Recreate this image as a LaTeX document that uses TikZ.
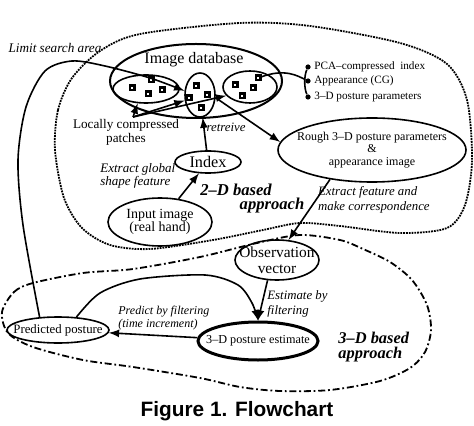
\documentclass[tikz,border=0pt]{standalone}
\usepackage{fontspec}
\setmainfont{Liberation Serif}
\newfontfamily\capfont{Liberation Sans}
\usepackage{tikz}
\usetikzlibrary{shapes,arrows}

\begin{document}
\begin{tikzpicture}[x=0.5pt, y=-0.5pt,
    stage/.style={ellipse, draw, thick, inner sep=0pt},
    note/.style={font=\fontsize{6.4}{7.5}\selectfont\itshape, inner sep=0pt},
    big/.style={font=\fontsize{8.3}{8}\selectfont\bfseries\itshape, inner sep=0pt},
    plain/.style={inner sep=0pt, align=center}]

  \useasboundingbox (0,0) rectangle (474,426);

  % the two approaches
  \draw [line width=0.9pt, dash pattern=on 0.9pt off 0.5pt] plot [smooth cycle] coordinates {(55,150) (58,110) (72,78) (100,51) (140,34) (240,23) (310,26) (400,43) (447,64) (467,100) (472,160) (465,205) (447,228) (400,233) (340,226) (300,223) (263,230) (213,240) (150,249) (110,245) (82,228) (64,198)};
  \draw [line width=0.9pt, dash pattern=on 3.5pt off 1.4pt on 0.9pt off 1.4pt] plot [smooth cycle] coordinates {(2,312) (14,292) (33,283) (83,273) (133,269) (200,257) (257,243) (300,235) (340,240) (363,249) (390,262) (412,280) (427,305) (431,330) (425,352) (410,368) (380,381) (330,390) (280,391) (240,387) (200,378) (133,367) (83,360) (33,347) (8,333)};

  % image database
  \node [stage, line width=1pt, minimum width=86pt, minimum height=37pt] (imgdb) at (196,81) {};
  \node [plain, font=\fontsize{8}{9}\selectfont] (imgtxt) at (194,60) {Image database};
  \node [stage, minimum width=33pt, minimum height=14pt] (leftcl) at (146,89) {};
  \node [stage, minimum width=15pt, minimum height=22pt] (midcl) at (200,95) {};
  \node [stage, minimum width=27pt, minimum height=16pt] (rightcl) at (250,87) {};
  \foreach \x/\y in {132/88, 151/80, 148/94, 162/90, 196/86, 207/95, 189/98, 201/108, 235/85, 258/78, 253/88, 242/96} {
    \fill (\x-3.5,\y-3.5) rectangle (\x+3.5,\y+3.5);
    \fill [white] (\x-1.3,\y-0.8) rectangle (\x+1.3,\y+0.8);
  }
  \coordinate (pcapatch) at (261,77);

  % what one patch holds
  \node [circle, fill, inner sep=0pt, minimum size=2.6pt] (b1) at (308,67) {};
  \node [circle, fill, inner sep=0pt, minimum size=2.6pt] (b2) at (308,81) {};
  \node [circle, fill, inner sep=0pt, minimum size=2.6pt] (b3) at (308,97) {};
  \node [anchor=west, inner sep=0pt, font=\fontsize{5.6}{6}\selectfont] (pcatxt) at (314,67) {PCA--compressed\ \ index};
  \node [anchor=west, inner sep=0pt, font=\fontsize{5.6}{6}\selectfont] (cgtxt) at (314,81) {Appearance (CG)};
  \node [anchor=west, inner sep=0pt, font=\fontsize{5.6}{6}\selectfont] (postxt) at (314,97) {3--D posture parameters};
  \draw [thick] (b1) .. controls (304,76) and (304,88) .. (b3);
  \draw [thick] (pcapatch) .. controls (285,68) and (298,76) .. (b2);

  % stages
  \node [stage, minimum width=33pt, minimum height=11pt,
         label={[plain, font=\fontsize{8.1}{9}\selectfont]center:Index}] (index) at (208,162) {};
  \node [stage, minimum width=52pt, minimum height=24pt,
         label={[plain, font=\fontsize{7}{6.5}\selectfont]center:Input image\\(real hand)}] (input) at (160,222) {};
  \node [stage, minimum width=94pt, minimum height=32pt,
         label={[plain, font=\fontsize{6}{6.3}\selectfont]center:Rough 3--D posture parameters\\\&\\appearance image}] (rough) at (372,150) {};
  \node [stage, minimum width=42pt, minimum height=20pt,
         label={[plain, font=\fontsize{7.7}{8}\selectfont]center:Observation\\vector}] (obs) at (277,260) {};
  \node [stage, line width=1.5pt, minimum width=60pt, minimum height=19pt,
         label={[plain, font=\fontsize{6.1}{7}\selectfont]center:3--D posture estimate}] (est) at (258,341) {};
  \node [stage, minimum width=51pt, minimum height=13pt,
         label={[plain, font=\fontsize{6.4}{7}\selectfont]center:Predicted posture}] (pred) at (58,330) {};

  % labels
  \node [note, font=\fontsize{6.6}{7.5}\selectfont\itshape] (limit) at (55,48) {Limit search area};
  \node [plain, font=\fontsize{6.6}{5.6}\selectfont] (lcp) at (126,132) {Locally compressed\\patches};
  \coordinate (lcptop) at (133,117);
  \node [note] (retr) at (226,127) {retreive};
  \node [note, anchor=west, align=left, font=\fontsize{6.5}{6.5}\selectfont\itshape] (extg) at (100,176) {Extract global\\shape feature};
  \node [big] (twoda) at (236,190) {2--D based};
  \node [big] (twodb) at (272,206) {approach};
  \node [note, anchor=east, align=left, font=\fontsize{6.4}{7.5}\selectfont\itshape] (extf) at (430,200) {Extract feature and\\make correspondence};
  \node [note, anchor=west, align=left, font=\fontsize{6.4}{7.5}\selectfont\itshape] (estf) at (267,304) {Estimate by\\filtering};
  \node [note, anchor=west, align=left, font=\fontsize{6}{5.3}\selectfont\itshape] (predf) at (118,318) {Predict by filtering\\(time increment)};
  \node [big, anchor=west, align=left, font=\fontsize{8.2}{7.5}\selectfont\bfseries\itshape] (threed) at (338,347) {3--D based\\approach};

  % connectors
  \draw [-latex, thick] plot [smooth] coordinates {(pred.145) (23,225) (18,160) (26,107) (45,71) (72,61) (105,66) (150,78) (midcl.165)};
  \draw [-latex, thick] (lcptop) -- (leftcl.240);
  \draw [-latex, thick] (lcptop) -- (midcl.200);
  \draw [-latex, thick] (lcptop) -- (rightcl.200);
  \draw [-latex, thick] (index) -- (midcl);
  \draw [-latex, thick] (input) -- (index);
  \draw [-latex, thick] (midcl.350) -- (rough.175);
  \draw [-latex, thick] (rough.215) -- (obs.60);
  \draw [-latex, thick] (obs.245) -- (est.north);
  \draw [-latex, thick] plot [smooth] coordinates {(pred.35) (100,293) (140,279) (205,275) (238,285) (252,303) (est.north)};
  \draw [-latex, thick] (est) -- (pred);

  \node [inner sep=0pt, font=\capfont\fontsize{10.4}{12}\selectfont\bfseries] (caption) at (237,411) {Figure 1. Flowchart};
\end{tikzpicture}
\end{document}
